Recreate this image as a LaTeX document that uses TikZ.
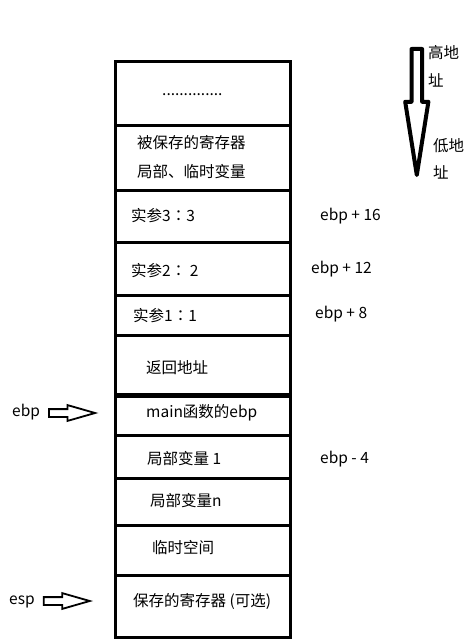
\documentclass[tikz,border=0pt]{standalone}
\usepackage{fontspec}
\setmainfont{Noto Sans CJK SC}
\newfontfamily\tcfont{Noto Sans CJK TC}
\newcommand{\qcolon}{{\tcfont ：}}
\usetikzlibrary{positioning,shapes.arrows}

\begin{document}
\begin{tikzpicture}[x=1pt,y=-1pt,
  font=\fontsize{15.5}{18}\selectfont,
  cell/.style={line width=3pt},
  lbl/.style={anchor=west, inner sep=0pt, text height=.88em, text depth=.12em},
  ptr/.style={single arrow, draw, line width=1.8pt, inner sep=3pt,
    minimum height=46pt, single arrow head extend=4pt, single arrow tip angle=32}]
\useasboundingbox (0,0) rectangle (474,642);
% стек
\draw [cell] (115,62) rectangle (290,637);
\foreach \y in {125,190,242,295,335,435,478,525,575}
  \draw [cell] (115,\y) -- (290,\y);
\draw [line width=5pt] (115,395) -- (290,395);
% ячейки
\node [lbl] (dots) at (162,92) {..............};
\node [lbl] (saved) at (137,145) {被保存的寄存器};
\node [lbl] (locals) at (137,174) {局部、临时变量};
\node [lbl] (arg3) at (131,218) {实参3\qcolon 3};
\node [lbl] (arg2) at (131,273) {实参2\qcolon\ 2};
\node [lbl] (arg1) at (133,318) {实参1\qcolon 1};
\node [lbl] (ret) at (146,370) {返回地址};
\node [lbl] (oldebp) at (146,414) {main函数的ebp};
\node [lbl] (loc1) at (147,461) {局部变量 1};
\node [lbl] (locn) at (150,503) {局部变量n};
\node [lbl] (tmp) at (152,550) {临时空间};
\node [lbl] (regs) at (133,603) {保存的寄存器 (可选)};
% смещения
\node [lbl] (off16) at (320,217) {ebp + 16};
\node [lbl] (off12) at (311,270) {ebp + 12};
\node [lbl] (off8) at (315,315) {ebp + 8};
\node [lbl] (offm4) at (320,460) {ebp - 4};
% указатели
\node [lbl] (ebp) at (12,413) {ebp};
\node [ptr, right=8pt of ebp] (ebparrow) {};
\node [lbl] (esp) at (9,601) {esp};
\node [ptr, right=8pt of esp] (esparrow) {};
% направление адресов
\node [single arrow, draw, line width=4pt, line join=round, inner sep=3.3pt,
  minimum height=126pt, single arrow head extend=6.3pt, single arrow tip angle=18,
  shape border rotate=270, anchor=tail] (dir) at (416.8,47) {};
\node [lbl] (high1) at (428,55) {高地};
\node [lbl] (high2) at (428,83) {址};
\node [lbl] (low1) at (433,148) {低地};
\node [lbl] (low2) at (433,175) {址};
\end{tikzpicture}
\end{document}
